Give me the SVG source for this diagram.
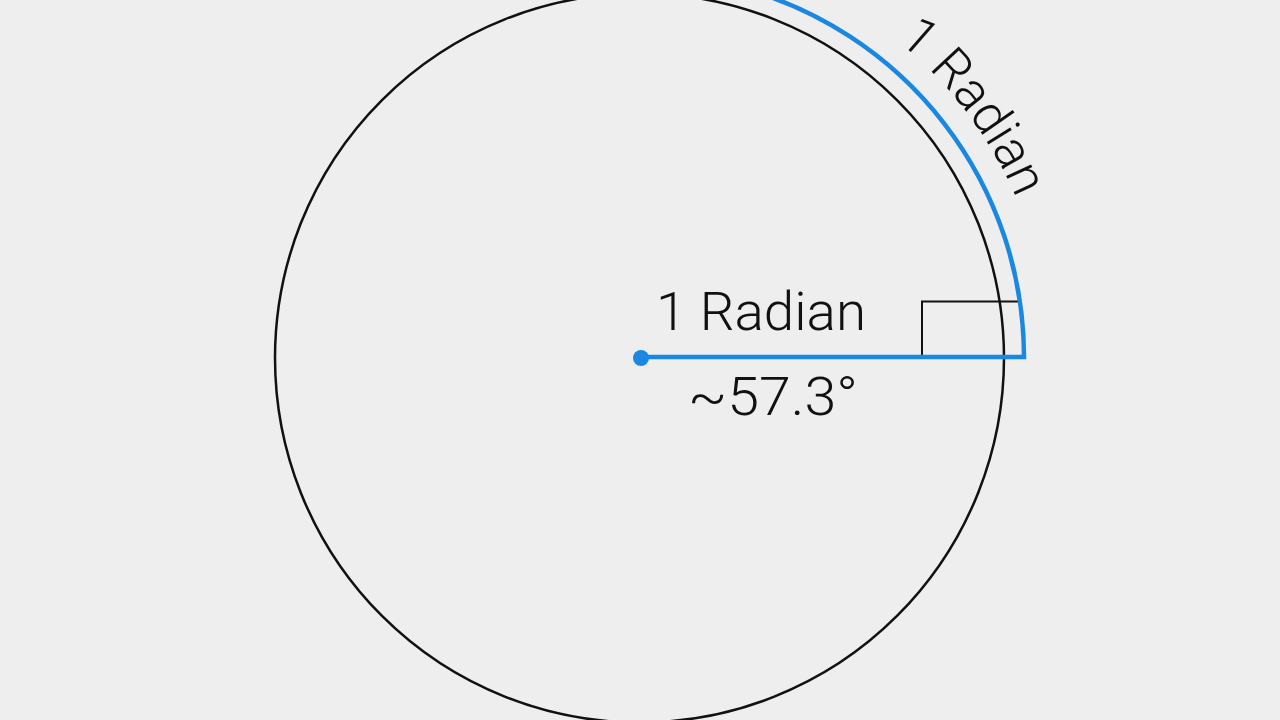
<svg xmlns="http://www.w3.org/2000/svg" width="1280" height="720" viewBox="0 0 1280 720">
<style>
.lbl{font-family:Roboto,"Liberation Sans",Arial,sans-serif;font-weight:300;fill:#111;}
.blue{stroke:#1a88e0;fill:none;}
</style>
<defs>
<path id="arcText" d="M 875 23.8 A 410 410 0 0 1 1035.1 252.4"/>
</defs>
<rect width="1280" height="720" fill="#eeeeee"/>
<g id="circle">
<circle cx="639.5" cy="358" r="364.5" fill="none" stroke="#111" stroke-width="2.5"/>
</g>
<g id="right-angle">
<polyline points="922,357 922,301.5 1019,301.5" fill="none" stroke="#111" stroke-width="2"/>
</g>
<g id="connectors">
<path class="blue" d="M 641 357 H 1024 A 383 383 0 0 0 738 -13" stroke-width="4.5" stroke-linejoin="miter"/>
</g>
<g id="center-dot">
<circle cx="641" cy="358" r="8" fill="#1a88e0"/>
</g>
<g id="labels">
<text class="lbl" x="656" y="330" font-size="54" textLength="210" lengthAdjust="spacingAndGlyphs">1 Radian</text>
<text class="lbl" x="688" y="415" font-size="54" textLength="170" lengthAdjust="spacingAndGlyphs">~57.3°</text>
<text class="lbl" font-size="52"><textPath href="#arcText" startOffset="28">1 Radian</textPath></text>
</g>
</svg>
